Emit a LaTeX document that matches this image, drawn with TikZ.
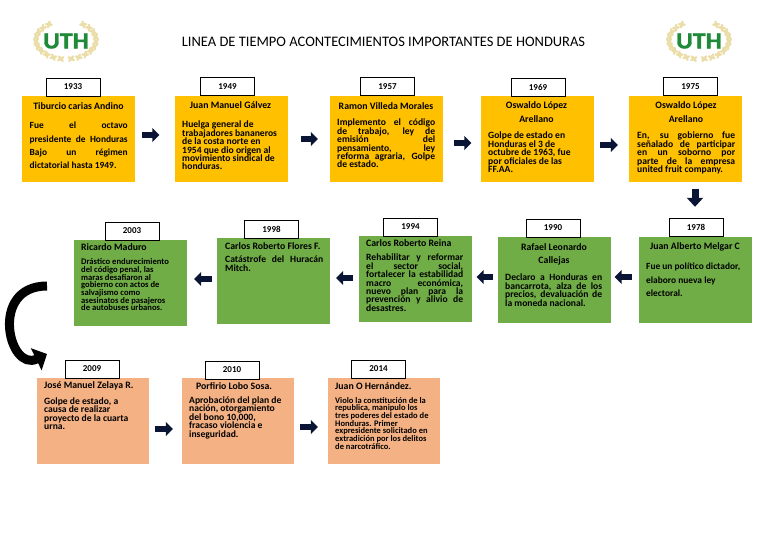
\documentclass[tikz,border=0pt]{standalone}
\usepackage{fontspec}
\setmainfont{Carlito}
\usetikzlibrary{arrows.meta}
\definecolor{cajaoro}{HTML}{FFC000}
\definecolor{cajaverde}{HTML}{70AD47}
\definecolor{cajasalmon}{HTML}{F4B183}
\definecolor{flechaazul}{HTML}{0A1434}
\definecolor{hoja}{HTML}{EBDDA8}
\definecolor{uthverde}{HTML}{1F8A3A}
\tikzset{
  logo/.pic = {
    \foreach \a in {100,115,...,235} {
      \fill[hoja, shift={(\a:30 and 19)}, rotate=-\a-50] (0,0) ellipse (4.2 and 1.5);
      \fill[hoja, shift={(\a:30 and 19)}, rotate=-\a-130] (0,0) ellipse (4.2 and 1.5);
    }
    \foreach \a in {80,65,...,-55} {
      \fill[hoja, shift={(\a:30 and 19)}, rotate=-\a-50] (0,0) ellipse (4.2 and 1.5);
      \fill[hoja, shift={(\a:30 and 19)}, rotate=-\a-130] (0,0) ellipse (4.2 and 1.5);
    }
    \node[font=\fontsize{23}{23}\selectfont\bfseries\addfontfeature{FakeBold=1.5}, text=uthverde, inner sep=0, xscale=1.12] (-uth) at (0,1) {UTH};
  }
}

\begin{document}
\begin{tikzpicture}[x=1pt, y=-1pt,
  amar/.style = {fill=cajaoro, minimum width=113pt, minimum height=86pt, inner sep=0},
  verd/.style = {fill=cajaverde, minimum width=113pt, minimum height=86pt, inner sep=0},
  salm/.style = {fill=cajasalmon, minimum width=112pt, minimum height=86pt, inner sep=0},
  anio/.style = {draw, fill=white, line width=1pt, minimum width=54pt, minimum height=18pt, inner sep=0, font=\fontsize{9}{9}\selectfont\bfseries},
  nombre/.style = {inner sep=0, font=\fontsize{9.8}{9.8}\selectfont\bfseries},
  texto/.style = {anchor=north west, inner sep=0, align=justify, font=\fontsize{9.6}{8.4}\selectfont\bfseries},
  flecha/.style = {flechaazul, line width=6.5pt, -{Triangle[length=7pt,width=14pt]}},
  curva/.style = {line width=9pt, -{Triangle[length=12pt,width=24pt]}}]

\useasboundingbox (0,0) rectangle (768,543);

\pic (uthA) at (66,40) {logo};
\pic (uthB) at (699,40) {logo};
\node[font=\fontsize{14.5}{14.5}\selectfont] (titulo) at (383.5,42) {LINEA DE TIEMPO ACONTECIMIENTOS IMPORTANTES DE HONDURAS};

% primera fila
\node[amar] (T) at (78.5,139) {};
\node[amar] (G) [right of=T, node distance=152.5pt] {};
\node[amar] (V) [right of=G, node distance=155.5pt] {};
\node[amar] (L) [right of=V, node distance=150.5pt] {};
\node[amar] (O) [right of=L, node distance=148.5pt, yshift=0.5pt] {};

\node[anio] (y1933) at (73,87) {1933};
\node[anio] (y1949) at (227.5,86.5) {1949};
\node[anio] (y1957) at (387.5,86.5) {1957};
\node[anio] (y1969) at (538,87) {1969};
\node[anio] (y1975) at (690.5,86.5) {1975};

\node[nombre] (nT) at (78.5,106) {Tiburcio carias Andino};
\node[nombre] (nG) at (230.5,105) {Juan Manuel Gálvez};
\node[nombre] (nV) at (386,106) {Ramon Villeda Morales};
\node[nombre, align=center, font=\fontsize{9.8}{14}\selectfont\bfseries] (nL) at (536.5,112) {Oswaldo López\\Arellano};
\node[nombre, align=center, font=\fontsize{9.8}{14}\selectfont\bfseries] (nO) at (686,112) {Oswaldo López\\Arellano};

\node[texto, text width=98pt, font=\fontsize{9.4}{13.3}\selectfont\bfseries] (tT) at (29.5,122) {Fue el octavo\linebreak presidente de Honduras\linebreak Bajo un régimen\linebreak dictatorial hasta 1949.};
\node[texto, text width=96pt] (tG) at (182,121) {Huelga general de\\trabajadores bananeros\\de la costa norte en\\1954 que dio origen al\\movimiento sindical de\\honduras.};
\node[texto, text width=98pt] (tV) at (337,119) {Implemento el código\linebreak de trabajo, ley de\linebreak emisión del\linebreak pensamiento, ley\linebreak reforma agraria, Golpe\linebreak de estado.};
\node[texto, text width=96pt] (tL) at (488,132) {Golpe de estado en\\Honduras el 3 de\\octubre de 1963, fue\\por oficiales de las\\FF.AA.};
\node[texto, text width=98pt] (tO) at (637,132) {En, su gobierno fue\linebreak señalado de participar\linebreak en un soborno por\linebreak parte de la empresa\linebreak united fruit company.};

% segunda fila
\node[verd] (M) at (695.5,280) {};
\node[verd] (C) [left of=M, node distance=141.5pt] {};
\node[verd] (R) [left of=C, node distance=139pt, yshift=1pt] {};
\node[verd] (F) [left of=R, node distance=141.5pt, yshift=-2pt] {};
\node[verd] (D) [left of=F, node distance=143pt, yshift=-2pt] {};

\node[anio] (y1978) at (696,227.5) {1978};
\node[anio] (y1990) at (553,228) {1990};
\node[anio] (y1994) at (410.5,227) {1994};
\node[anio] (y1998) at (271.5,229) {1998};
\node[anio] (y2003) at (132,231) {2003};

\node[nombre] (nM) at (695,247) {Juan Alberto Melgar C};
\node[nombre, align=center, font=\fontsize{9.8}{13.4}\selectfont\bfseries] (nC) at (554,254.5) {Rafael Leonardo\\Callejas};
\node[nombre, anchor=west] (nR) at (366,243) {Carlos Roberto Reina};
\node[nombre, anchor=west] (nF) at (225,246) {Carlos Roberto Flores F.};
\node[nombre, anchor=west] (nD) at (81,247) {Ricardo Maduro};

\node[texto, text width=98pt, font=\fontsize{9.4}{13.5}\selectfont\bfseries] (tM) at (646,263) {Fue un político dictador,\\elaboro nueva ley\\electoral.};
\node[texto, text width=97pt] (tC) at (505,274) {Declaro a Honduras en\linebreak bancarrota, alza de los\linebreak precios, devaluación de\linebreak la moneda nacional.};
\node[texto, text width=97pt] (tR) at (366,254) {Rehabilitar y reformar\linebreak el sector social,\linebreak fortalecer la estabilidad\linebreak macro económica,\linebreak nuevo plan para la\linebreak prevención y alivio de\linebreak desastres.};
\node[texto, text width=98pt] (tF) at (225,256) {Catástrofe del Huracán\linebreak Mitch.};
\node[texto, text width=92pt, font=\fontsize{8.6}{7.7}\selectfont\bfseries] (tD) at (81,258.5) {Drástico endurecimiento\\del código penal, las\\maras desafiaron al\\gobierno con actos de\\salvajismo como\\asesinatos de pasajeros\\de autobuses urbanos.};

% tercera fila
\node[salm] (Z) at (93,421) {};
\node[salm] (P) [right of=Z, node distance=145pt] {};
\node[salm] (H) [right of=P, node distance=146pt] {};

\node[anio] (y2009) at (92,369) {2009};
\node[anio] (y2010) at (232,370) {2010};
\node[anio] (y2014) at (378.5,369) {2014};

\node[nombre, anchor=west] (nZ) at (44,386) {José Manuel Zelaya R.};
\node[nombre] (nP) at (234,386) {Porfirio Lobo Sosa.};
\node[nombre, anchor=west] (nH) at (335,386) {Juan O Hernández.};

\node[texto, text width=98pt] (tZ) at (44,397.5) {Golpe de estado, a\\causa de realizar\\proyecto de la cuarta\\urna.};
\node[texto, text width=98pt] (tP) at (189,396.5) {Aprobación del plan de\\nación, otorgamiento\\del bono 10,000,\\fracaso violencia e\\inseguridad.};
\node[texto, text width=100pt, font=\fontsize{8.5}{7.7}\selectfont\bfseries] (tH) at (335,397) {Violo la constitución de la\\republica, manipulo los\\tres poderes del estado de\\Honduras. Primer\\expresidente solicitado en\\extradición por los delitos\\de narcotráfico.};

% flechas
\draw[flecha, shorten <=7pt, shorten >=15pt] (T.east |- 0,135) to (G.west |- 0,135);
\draw[flecha, shorten <=13pt, shorten >=12pt] (G.east |- 0,139) to (V.west |- 0,139);
\draw[flecha, shorten <=11pt, shorten >=9pt] (V.east |- 0,143) to (L.west |- 0,143);
\draw[flecha, shorten <=6pt, shorten >=11pt] (L.east |- 0,145) to (O.west |- 0,145);
\draw[flecha, line width=7pt, -{Triangle[length=9pt,width=16pt]}, shorten <=7pt, shorten >=30pt] (O.south -| 695,0) to (M.north -| 695,0);

\draw[flecha, shorten <=7pt, shorten >=4pt] (M.west |- 0,277) to (C.east |- 0,277);
\draw[flecha, shorten <=4pt, shorten >=5pt] (C.west |- 0,277) to (R.east |- 0,277);
\draw[flecha, shorten <=5pt, shorten >=6pt] (R.west |- 0,278) to (F.east |- 0,278);
\draw[flecha, shorten <=5pt, shorten >=7pt] (F.west |- 0,279) to (D.east |- 0,279);

\coordinate (ci) at (47,286);
\coordinate (cf) at (47,354);
\draw[curva] (ci) to [out=180,in=206,out looseness=2.2,in looseness=1.6] (cf);

\draw[flecha, shorten <=6pt, shorten >=9pt] (Z.east |- 0,429) to (P.west |- 0,429);
\draw[flecha, shorten <=6pt, shorten >=10pt] (P.east |- 0,427) to (H.west |- 0,427);

\end{tikzpicture}
\end{document}
